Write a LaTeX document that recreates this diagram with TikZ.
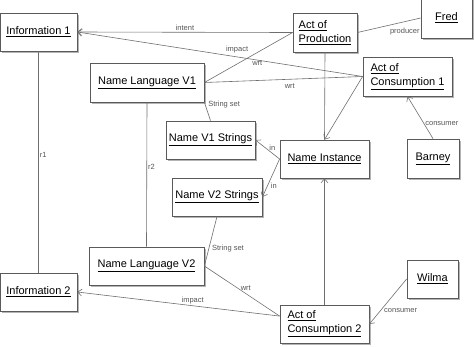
\documentclass[tikz,border=0pt]{standalone}
\usepackage{fontspec}
\setmainfont{Liberation Sans}
\usepackage{tikz}
\usetikzlibrary{arrows.meta,shadows}
\definecolor{boxline}{HTML}{5A5A5A}
\definecolor{shade}{HTML}{B4B4B4}
\definecolor{wire}{HTML}{6E6E6E}
\definecolor{labelgray}{HTML}{555555}
\newcommand{\objname}[1]{\underline{#1}}
\tikzset{
  >={Straight Barb[length=4pt,width=7pt]},
  obj/.style={draw=boxline,fill=white,line width=.8pt,inner sep=2pt,
    font=\fontsize{11}{14}\selectfont,
    drop shadow={shadow xshift=2pt,shadow yshift=-2pt,fill=shade,opacity=1}},
  link/.style={draw=wire,line width=.6pt},
  assoc/.style={link,->},
  lbl/.style={font=\fontsize{7.5}{9}\selectfont,text=labelgray,inner sep=1pt},
}

\begin{document}
\begin{tikzpicture}[x=1pt,y=-1pt]
  \useasboundingbox (0,0) rectangle (474,346);

  \node[obj,minimum width=77pt,minimum height=38pt] (info1) at (38.5,32) {\objname{Information 1}};
  \node[obj,minimum width=77pt,minimum height=38pt] (info2) at (38.5,292) {\objname{Information 2}};
  \node[obj,minimum width=114pt,minimum height=39pt] (nlv1) at (147,82.5) {\objname{Name Language V1}};
  \node[obj,minimum width=115pt,minimum height=38pt] (nlv2) at (146.5,266) {\objname{Name Language V2}};
  \node[obj,minimum width=64pt,minimum height=39pt,align=left] (aop) at (325,32.5) {\objname{Act of}\\\objname{Production}};
  \node[obj,minimum width=51pt,minimum height=40pt] (fred) at (446.5,18) {\objname{Fred}};
  \node[obj,minimum width=89pt,minimum height=39pt,align=left] (aoc1) at (407.5,76.5) {\objname{Act of}\\\objname{Consumption 1}};
  \node[obj,minimum width=89pt,minimum height=38pt] (v1str) at (210.5,140) {\objname{Name V1 Strings}};
  \node[obj,minimum width=90pt,minimum height=38pt] (v2str) at (217,197) {\objname{Name V2 Strings}};
  \node[obj,minimum width=89pt,minimum height=38pt] (ninst) at (324.5,159) {\objname{Name Instance}};
  \node[obj,minimum width=52pt,minimum height=39pt] (barney) at (433,158.5) {\objname{Barney}};
  \node[obj,minimum width=51pt,minimum height=38pt] (wilma) at (432.5,279) {\objname{Wilma}};
  \node[obj,minimum width=89pt,minimum height=38pt,align=left] (aoc2) at (324.5,324) {\objname{Act of}\\\objname{Consumption 2}};

  \draw[assoc] (aop.west) -- node[lbl,pos=.5,above] {intent} (info1.east);
  \draw[assoc] (aoc1.west) -- node[lbl,pos=.44,above=3pt] {impact} (info1.east);
  \draw[link] (nlv1.east) -- node[lbl,pos=.6,below=7pt] {wrt} (aop.west);
  \draw[link] (nlv1.east) -- node[lbl,pos=.54,below=3pt] {wrt} (aoc1.west);
  \draw[link] (fred.west) -- node[lbl,pos=.25,below=5pt] {producer} (aop.east);
  \draw[assoc] (barney.north) -- node[lbl,pos=.35,right] {consumer} (aoc1.south);
  \draw[link] (aop.south) -- (ninst.north);
  \draw[assoc] (aoc1.west) -- (ninst.north);
  \draw[assoc] (ninst.west) -- node[lbl,pos=.3,above=2pt] {in} (v1str.east);
  \draw[assoc] (ninst.west) -- node[lbl,pos=.7,right=2pt] {in} (v2str.east);
  \draw[link] (nlv1.south east) -- node[lbl,pos=.1,right=2pt] {String set} (v1str.north);
  \draw[link] (v2str.south) -- node[lbl,pos=.65,right=2pt] {String set} (nlv2.east);
  \draw[link] (info1.south) -- node[lbl,pos=.47,right] {r1} (info2.north);
  \draw[link] (nlv1.south) -- node[lbl,pos=.45,right] {r2} (nlv2.north);
  \draw[assoc] (aoc2.north) -- (ninst.south);
  \draw[link] (nlv2.east) -- node[lbl,pos=.55,above=2pt] {wrt} (aoc2.170);
  \draw[assoc] (aoc2.170) -- node[lbl,pos=.43,above] {impact} (info2.east);
  \draw[assoc] (wilma.west) -- node[lbl,pos=.69,right=2pt] {consumer} (aoc2.east);
\end{tikzpicture}
\end{document}
